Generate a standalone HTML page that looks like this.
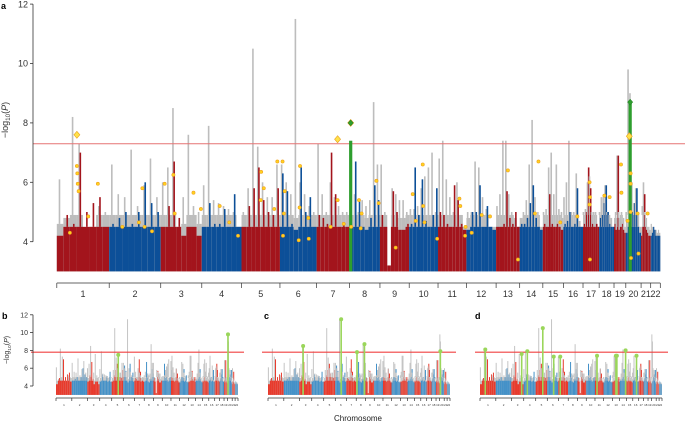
<!DOCTYPE html>
<html><head><meta charset="utf-8">
<style>
html,body{margin:0;padding:0;background:#fff;}
svg{display:block;font-family:"Liberation Sans",sans-serif;}
</style></head>
<body>
<svg id="chart" width="685" height="424" viewBox="0 0 685 424" xmlns="http://www.w3.org/2000/svg">
<text x="1" y="9" font-size="9" font-weight="bold">a</text>
<text x="2" y="319" font-size="9" font-weight="bold">b</text>
<text x="264" y="319" font-size="9" font-weight="bold">c</text>
<text x="475" y="319" font-size="9" font-weight="bold">d</text>
<text x="358" y="421" font-size="8" text-anchor="middle" fill="#222">Chromosome</text>
</svg>
<script>
// ---- data ----
const chromNames=["1","2","3","4","5","6","7","8","9","10","11","12","13","14","15","16","17","18","19","20","21","22"];
const chromBounds=[130,250,368,462,553,641,725,800,870,937,1003,1068,1136,1190,1243,1290,1335,1372,1406,1433,1468,1490,1512];
const coloredPeaks=[
[4.2,4.9,4.6,7.0,5.0,5.3,5.5,4.5],[4.6,4.8,5.0,4.6,5.0,6.0,5.3,5.0],[4.5,5.2,6.7,4.8,4.2,4.5,4.5,4.2],
[4.5,5.3,4.6,4.6,5.1,4.5,5.6,4.5],[4.5,5.2,5.8,6.5,5.4,5.0,4.9,5.8],[6.3,5.7,4.6,4.4,6.5,5.0,5.5,4.5],
[4.9,4.8,4.6,7.0,5.6,4.5,4.6,4.5],[4.5,6.7,5.4,4.5,4.4,4.8,5.9,5.4],[4.9,4.5,3.2,5.7,5.0,4.4,4.4,4.6],
[4.6,6.5,4.9,6.1,4.7,4.5,4.9,5.8],[5.0,4.9,4.6,4.5,5.9,5.4,4.6,4.4],[4.4,5.0,5.0,5.9,4.5,5.2,4.5,4.4],
[4.5,4.5,4.6,5.7,4.8,4.6,5.0,4.5],[4.6,4.6,4.8,5.3,5.9,4.8,4.5,4.4],[4.6,4.5,5.6,4.6,4.5,4.6,4.5,4.4],
[4.6,4.7,5.0,4.5,4.6,5.8,4.5,4.5],[4.6,5.0,6.5,5.8,4.6,4.5,4.6,4.5],[4.8,4.9,5.3,5.9,5.0,4.6,4.5,4.5],
[4.6,4.4,6.9,4.4,4.5,4.6,4.4,4.3],[4.3,4.5,5.0,5.0,5.3,5.8,4.5,4.3],[4.2,4.5,5.6,4.5,4.4,4.3,4.2,4.2],
[4.2,4.3,4.5,4.4,4.2,4.2,4.2,4.2]];
const grayPeaks=[
[6.1,4.8,8.2,7.3,4.4,4.5,5.2,5.0],[6.6,5.6,5.5,7.1,5.2,5.9,6.8,5.5],[6.0,6.5,8.5,4.5,5.5,7.6,5.2,5.0],
[5.9,7.9,5.4,5.3,5.2,5.1,5.0,4.5],[5.0,5.8,10.5,7.2,6.0,5.5,5.5,6.6],[6.6,6.0,5.6,11.5,6.0,5.6,5.2,5.0],
[7.3,5.6,5.0,6.0,5.5,5.2,5.0,5.0],[5.2,5.6,5.0,5.4,5.2,5.4,8.7,6.6],[6.6,5.0,3.2,5.8,5.6,5.4,5.4,5.0],
[5.1,5.1,5.2,5.8,6.2,6.5,7.0,5.0],[6.8,7.4,6.1,5.5,5.0,6.0,4.9,4.5],[5.0,5.0,6.7,6.5,5.5,5.1,4.5,4.5],
[5.2,5.6,7.4,7.4,5.6,5.0,4.8,4.5],[4.8,5.0,5.4,6.6,8.1,5.5,5.0,4.5],[5.0,5.1,6.5,7.0,5.6,6.6,5.1,5.0],
[5.5,6.0,7.4,5.0,5.0,6.3,4.7,4.5],[5.0,5.1,6.0,6.2,5.0,5.0,5.0,4.5],[5.0,5.5,5.5,5.9,5.0,4.9,4.8,4.5],
[4.8,5.0,6.9,5.0,4.9,5.0,4.8,4.5],[5.0,9.8,9.0,6.0,5.3,5.8,5.0,4.5],[4.5,5.2,6.0,5.0,4.8,4.5,4.5,4.4],
[4.6,4.5,4.4,4.4,4.4,4.3,4.4,4.3]];
const yellowPos=[160,176,177,178,180,202,224,280,318,326,331,348,377,397,400,443,460,503,525,545,598,597,604,628,635,647,650,652,648,687,686,684,706,707,757,773,787,804,822,826,828,862,867,906,945,952,968,969,972,1001,1052,1054,1066,1065,1080,1103,1122,1163,1186,1225,1233,1283,1322,1350,1351,1350,1351,1384,1396,1422,1423,1437,1444,1444,1444,1445,1460,1462,1483];
const yellowVal=[4.3,6.55,6.3,5.95,5.7,4.85,5.95,4.5,4.65,5.8,4.5,4.35,5.95,6.25,4.95,5.65,5.1,5.2,4.65,4.2,6.35,5.4,5.8,5.1,6.7,6.7,4.95,5.7,4.2,6.55,5.15,4.05,4.8,4.1,4.5,5.4,4.6,4.5,5.4,4.45,4.95,6.05,5.3,3.8,5.6,4.7,6.6,5.2,4.65,4.1,5.45,5.2,4.5,4.2,4.3,4.9,4.85,6.4,3.4,4.95,6.7,4.65,4.85,6.0,5.5,5.25,3.4,5.55,5.5,6.6,5.65,4.7,6.3,5.95,5.0,3.45,4.95,3.6,4.95];
const yDiamondPos=[176,773,803,1441];
const yDiamondVal=[7.6,7.45,8.0,7.55];
const greenColPos=[803,1443];
const greenColTop=[7.4,8.7];
const greenDiamondVal=[8.0,8.7];
const yTicks=[4,6,8,10,12];
const threshold=7.3;
const smallThreshold=7.8;
const bGreenFrac=[0.342,0.945], bGreenVal=[7.5,9.8];
const cGreenFrac=[0.193,0.402,0.489,0.530,0.947], cGreenVal=[8.5,11.5,7.8,8.7,7.9];
const dGreenFrac=[0.029,0.229,0.260,0.345,0.405,0.441,0.643,0.747,0.752,0.800,0.860], dGreenVal=[8.1,7.6,7.9,10.5,7.3,7.3,7.4,7.4,7.4,8.0,7.4];

// ---- drawing ----
const NS="http://www.w3.org/2000/svg";
const svg=document.getElementById('chart');
function mk(tag,attrs,parent){const e=document.createElementNS(NS,tag);for(const k in attrs)e.setAttribute(k,attrs[k]);(parent||svg).appendChild(e);return e;}

function drawPanel(o){
  const g0=chromBounds[0],g1=chromBounds[chromBounds.length-1];
  const xs=v=>o.x0+(v-g0)/(g1-g0)*(o.x1-o.x0);
  const ys=v=>o.y4-(v-4)*o.unit;
  const g=mk('g',{});
  
  
  const base=ys(3);
  for(let c=0;c<22;c++){
    const a=chromBounds[c],b=chromBounds[c+1],n=coloredPeaks[c].length,w=(b-a)/n;
    const col=c%2===0?o.red:o.blue;
    for(let i=0;i<n;i++){
      const gv=grayPeaks[c][i],cv=coloredPeaks[c][i];
      const xa=xs(a+i*w),xb=xs(a+(i+1)*w),xm=(xa+xb)/2;
      const cb=Math.min(cv,o.cBody);
      const gb=Math.min(gv,cb+0.4);
      mk('rect',{x:xa,y:ys(gb),width:xb-xa,height:base-ys(gb),fill:o.gray},g);
      if(gv>gb) mk('rect',{x:xm-o.spike/2-0.6,y:ys(gv),width:o.spike,height:ys(gb)-ys(gv),fill:o.gray},g);
      const r=mk('rect',{x:xa,y:ys(cb),width:xb-xa,height:base-ys(cb),fill:col},g);
      
      
      if(cv>cb) mk('rect',{x:xm-o.spike/2+0.6,y:ys(cv),width:o.spike,height:ys(cb)-ys(cv),fill:col},g);
    }
  }
  const th=mk('line',{x1:o.lx0,x2:o.lx1,y1:ys(o.th),y2:ys(o.th),stroke:o.thColor,'stroke-width':o.thW},g);
  
  
  if(o.showY){
    const ax=mk('line',{x1:o.ax,x2:o.ax,y1:ys(yTicks[0]),y2:ys(yTicks[yTicks.length-1]),stroke:'#333','stroke-width':0.8},g);
    
    
    yTicks.forEach(t=>{
      mk('line',{x1:o.ax-3,x2:o.ax,y1:ys(t),y2:ys(t),stroke:'#333','stroke-width':0.8},g);
      const tx=mk('text',{x:o.ax-5,y:ys(t)+o.fs*0.35,'font-size':o.fs,'text-anchor':'end',fill:'#333'},g);
      tx.textContent=t;
      
      
    });
    const yl=mk('text',{transform:`translate(${o.ylx},${o.yly}) rotate(-90)`,'font-size':o.fs,'text-anchor':'middle',fill:'#333'},g);
    yl.innerHTML='−log<tspan font-size="'+(o.fs*0.7)+'" dy="2">10</tspan><tspan dy="-2">(</tspan><tspan font-style="italic">P</tspan>)';
    
    
  }
  const xl=mk('line',{x1:xs(g0),x2:xs(g1),y1:o.xay,y2:o.xay,stroke:'#333','stroke-width':0.8},g);
  
  
  chromBounds.forEach(b=>mk('line',{x1:xs(b),x2:xs(b),y1:o.xay,y2:o.xay+o.tick,stroke:'#333','stroke-width':0.7},g));
  for(let c=0;c<22;c++){
    const t=mk('text',{x:(xs(chromBounds[c])+xs(chromBounds[c+1]))/2,y:o.xay+o.lblDy,'font-size':o.xfs,'text-anchor':'middle',fill:'#333'},g);
    t.textContent=chromNames[c];
    
    
  }
  return {xs,ys,g,base};
}

const A=drawPanel({name:'panel-a',showY:true,x0:56.8,x1:660.3,y4:241.7,unit:29.7,red:'#a3141c',blue:'#0c4f98',gray:'#bdbdbd',cBody:4.5,spike:1.6,th:threshold,thColor:'#e57373',thW:1,lx0:33,lx1:685,ax:33,fs:9,ylx:8,yly:120,xay:283,tick:5,lblDy:14,xfs:9});
greenColPos.forEach((p,i)=>{
  const r=mk('rect',{x:A.xs(p)-1.6,y:A.ys(greenColTop[i]),width:3.2,height:A.base-A.ys(greenColTop[i]),fill:'#2e9e2e'},A.g);
  
  
});
yellowPos.forEach((p,i)=>{
  const c=mk('circle',{cx:A.xs(p),cy:A.ys(yellowVal[i]),r:1.6,fill:'#ffd21f',stroke:'#f0a020','stroke-width':0.6},A.g);
  
  
});
yDiamondPos.forEach((p,i)=>{
  const x=A.xs(p),y=A.ys(yDiamondVal[i]);
  const d=mk('polygon',{points:`${x},${y-3.5} ${x+3},${y} ${x},${y+3.5} ${x-3},${y}`,fill:'#ffe24a',stroke:'#e8a020','stroke-width':0.6},A.g);
  
  
});
greenColPos.forEach((p,i)=>{
  const x=A.xs(p),y=A.ys(greenDiamondVal[i]);
  const d=mk('polygon',{points:`${x},${y-3} ${x+2.6},${y} ${x},${y+3} ${x-2.6},${y}`,fill:'#2e9e2e',stroke:'#1c7a1c','stroke-width':0.5},A.g);
  
  
});

function small(name,x0,x1,lx0,lx1,showY,fr,vals){
  const P=drawPanel({name:name,showY:showY,x0:x0,x1:x1,y4:386,unit:8.9,red:'#e83a2c',blue:'#4491c8',gray:'#c4c4c4',cBody:4.6,spike:1,th:smallThreshold,thColor:'#f04040',thW:1.2,lx0:lx0,lx1:lx1,ax:33,fs:7,ylx:9,yly:350,xay:398,tick:3,lblDy:8,xfs:3});
  const g0=chromBounds[0],g1=chromBounds[chromBounds.length-1];
  fr.forEach((f,i)=>{
    const x=P.xs(g0+f*(g1-g0)),y=P.ys(vals[i]);
    const r=mk('rect',{x:x-0.8,y:y,width:1.6,height:P.base-y,fill:'#9ad65a'},P.g);
    
    
    const c=mk('circle',{cx:x,cy:y,r:2,fill:'#9ad65a'},P.g);
    
    
  });
  return P;
}
small('panel-b',56,238,31,244,true,bGreenFrac,bGreenVal);
small('panel-c',268,450,262,456,false,cGreenFrac,cGreenVal);
small('panel-d',480,662,475,668,false,dGreenFrac,dGreenVal);
</script>
</body></html>
